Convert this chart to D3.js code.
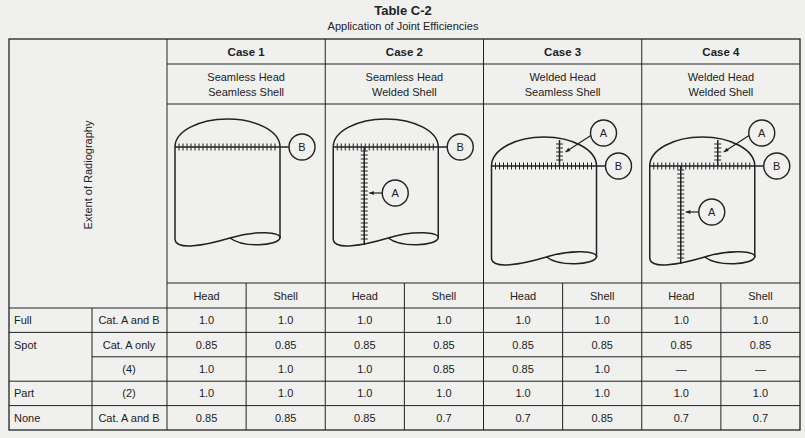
<!DOCTYPE html>
<html><head><meta charset="utf-8">
<script src="https://cdn.jsdelivr.net/npm/d3@7"></script>
<style>body{margin:0;background:#f0f0ee}svg{font-family:"Liberation Sans",Arial,sans-serif}</style>
</head><body><svg id="chart" width="805" height="438"></svg>
<script>
// table content
var cases = ["Case 1", "Case 2", "Case 3", "Case 4"];
var headDesc = ["Seamless Head", "Seamless Head", "Welded Head", "Welded Head"];
var shellDesc = ["Seamless Shell", "Welded Shell", "Seamless Shell", "Welded Shell"];
var subCols = ["Head", "Shell"];
var extent = ["Full", "Spot", "", "Part", "None"];
var category = ["Cat. A and B", "Cat. A only", "(4)", "(2)", "Cat. A and B"];
var values = [
  ["1.0", "1.0", "1.0", "1.0", "1.0", "1.0", "1.0", "1.0"],
  ["0.85", "0.85", "0.85", "0.85", "0.85", "0.85", "0.85", "0.85"],
  ["1.0", "1.0", "1.0", "0.85", "0.85", "1.0", "—", "—"],
  ["1.0", "1.0", "1.0", "1.0", "1.0", "1.0", "1.0", "1.0"],
  ["0.85", "0.85", "0.85", "0.7", "0.7", "0.85", "0.7", "0.7"]
];
// which welds each case shows
var headWeld = [false, false, true, true];
var shellWeld = [false, true, false, true];

var svg = d3.select("#chart");
var ink = "#222";

// column geometry
var x = d3.scaleBand().domain(d3.range(4)).range([167, 800]);
var sub = d3.scaleBand().domain(d3.range(8)).range([167, 800]);
var rowY = d3.scaleBand().domain(d3.range(5)).range([308, 430]);

function line(x1, y1, x2, y2, w) {
  svg.append("line").attr("x1", x1).attr("y1", y1).attr("x2", x2).attr("y2", y2)
    .attr("stroke", ink).attr("stroke-width", w || 1);
}
function text(t, tx, ty, size, weight, anchor) {
  return svg.append("text").attr("x", tx).attr("y", ty).attr("font-size", size)
    .attr("font-weight", weight || "normal").attr("text-anchor", anchor || "middle")
    .attr("fill", ink).text(t);
}

// title
text("Table C-2", 403, 15, 13, "bold");
text("Application of Joint Efficiencies", 403, 30, 11);

// outer frame
svg.append("rect").attr("x", 9).attr("y", 39).attr("width", 791).attr("height", 391)
  .attr("fill", "none").attr("stroke", ink).attr("stroke-width", 1.3);

// horizontal rules
line(167, 64, 800, 64);
line(167, 104, 800, 104);
line(167, 283, 800, 283);
line(9, 308, 800, 308);
rowY.domain().forEach(function (i) {
  if (i === 0) return;
  var y = rowY(i);
  line(i === 2 ? 92 : 9, y, 800, y);
});
// vertical rules
line(167, 39, 167, 430);
line(92, 308, 92, 430);
x.domain().forEach(function (i) {
  if (i > 0) line(x(i), 39, x(i), 430);
  line(x(i) + x.bandwidth() / 2, 283, x(i) + x.bandwidth() / 2, 430);
});

// headers
var g = d3.range(4);
g.forEach(function (i) {
  var cx = x(i) + x.bandwidth() / 2;
  text(cases[i], cx, 56, 11.5, "bold");
  text(headDesc[i], cx, 81, 11);
  text(shellDesc[i], cx, 96, 11);
});
d3.range(8).forEach(function (j) {
  text(subCols[j % 2], sub(j) + sub.bandwidth() / 2, 300, 11);
});
text("Extent of Radiography", 0, 0, 11).attr("transform", "translate(92,175) rotate(-90)");

// body
values.forEach(function (row, r) {
  var y = rowY(r) + rowY.bandwidth() / 2 + 4;
  if (extent[r]) text(extent[r], 14, y, 11, "normal", "start");
  text(category[r], 129, y, 11);
  row.forEach(function (v, j) {
    text(v, sub(j) + sub.bandwidth() / 2, y, 11);
  });
});

// weld seam with cross ticks
function seam(x1, y1, x2, y2) {
  line(x1, y1, x2, y2, 1.5);
  var len = Math.hypot(x2 - x1, y2 - y1), n = Math.floor(len / 4);
  var ux = (x2 - x1) / len, uy = (y2 - y1) / len;
  for (var k = 1; k < n; k++) {
    var px = x1 + ux * k * 4, py = y1 + uy * k * 4;
    line(px - uy * 3.5, py + ux * 3.5, px + uy * 3.5, py - ux * 3.5, 1);
  }
}
function bubble(cx, cy, label) {
  svg.append("circle").attr("cx", cx).attr("cy", cy).attr("r", 13)
    .attr("fill", "#f0f0ee").attr("stroke", ink).attr("stroke-width", 1.4);
  text(label, cx, cy + 4, 11);
}
function arrow(x1, y1, x2, y2) {
  line(x1, y1, x2, y2, 1.2);
  var a = Math.atan2(y2 - y1, x2 - x1);
  svg.append("path").attr("d", "M" + x2 + "," + y2 +
    "L" + (x2 - 5 * Math.cos(a - 0.4)) + "," + (y2 - 5 * Math.sin(a - 0.4)) +
    "L" + (x2 - 5 * Math.cos(a + 0.4)) + "," + (y2 - 5 * Math.sin(a + 0.4)) + "Z").attr("fill", ink);
}

// vessel drawings
g.forEach(function (i) {
  var L = x(i) + 8, R = L + 105, M = (L + R) / 2, w = (R - L) / 2;
  var top = headWeld[i] ? 137 : 119, seamY = top + 28 + (headWeld[i] ? 1 : 0), bot = seamY + 97;
  var h = seamY - top, k = 0.552;
  var p = d3.path();
  p.moveTo(L, bot - 4);
  p.lineTo(L, seamY);
  p.bezierCurveTo(L, seamY - k * h, M - k * w, top, M, top);
  p.bezierCurveTo(M + k * w, top, R, seamY - k * h, R, seamY);
  p.lineTo(R, bot - 6);
  svg.append("path").attr("d", p.toString()).attr("fill", "none").attr("stroke", ink).attr("stroke-width", 1.5);
  // broken-off bottom
  svg.append("path").attr("d",
      "M" + L + "," + (bot - 4) + " C" + (L + 2) + "," + (bot + 6) + " " + (L + 28) + "," + (bot + 2) + " " + (L + 55) + "," + (bot - 6) +
      " C" + (L + 80) + "," + (bot - 14) + " " + (R + 2) + "," + (bot - 12) + " " + R + "," + (bot - 6) +
      " C" + (R - 2) + "," + (bot + 2) + " " + (L + 68) + "," + (bot + 4) + " " + (L + 55) + "," + (bot - 6))
    .attr("fill", "none").attr("stroke", ink).attr("stroke-width", 1.5);
  // circumferential seam B
  seam(L, seamY, R, seamY);
  line(R, seamY, R + 9, seamY, 1.5);
  bubble(R + 22, seamY, "B");
  if (shellWeld[i]) {
    var sx = L + 31;
    seam(sx, seamY, sx, bot + 1);
    arrow(sx + 18, seamY + 46, sx + 5, seamY + 46);
    bubble(sx + 31, seamY + 46, "A");
  }
  if (headWeld[i]) {
    var hx = L + 68;
    seam(hx, top + 3, hx, seamY);
    arrow(L + 100, top - 2, hx + 6, top + 15);
    bubble(L + 112, top - 4, "A");
  }
});
</script></body></html>
